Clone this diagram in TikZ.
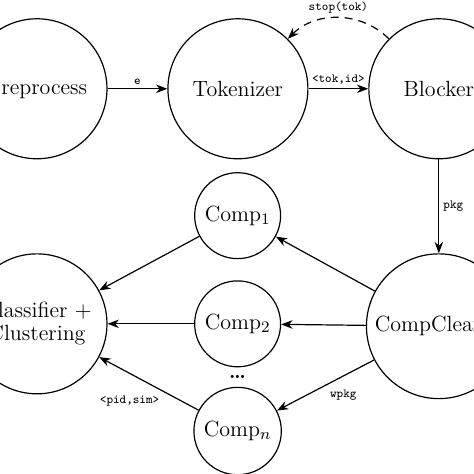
\documentclass[tikz,border=0pt]{standalone}
\usetikzlibrary{positioning,arrows.meta}

\tikzset{
  big/.style={draw, circle, semithick, minimum size=2.46cm, align=center,
    font=\fontsize{11}{11.5}\selectfont},
  comp/.style={draw, circle, semithick, minimum size=1.51cm,
    font=\fontsize{11}{11.5}\selectfont},
  flow/.style={semithick, -{Stealth[length=2mm]}},
  msg/.style={font=\fontsize{6.2}{7}\selectfont\ttfamily, auto, inner sep=2pt},
}

\begin{document}
\begin{tikzpicture}[node distance=1.05cm]
  \path[use as bounding box, clip] (-0.65,1.56) rectangle (7.68,-6.77);

  % Nodes
  \node[big] (P) {Preprocess};
  \node[big, right=of P] (T) {Tokenizer};
  \node[big, right=of T] (B) {Blocker};
  \node[big, below=1.65cm of B] (CC) {CompCleaner};
  \node[big, below=1.65cm of P] (C) {Classifier +\\Clustering};
  \node[comp, right=1.52cm of C] (Comp2) {Comp$_2$};
  \node[comp, above=0.37cm of Comp2] (Comp1) {Comp$_1$};
  \node[comp, below=0.34cm of Comp2] (Compn) {Comp$_n$};
  \path (Comp2) -- node (dots) {\textbf{\ldots}} (Compn);

  % Edges
  \draw[flow] (P) -- node[msg] {e} (T);
  \draw[flow] (T) -- node[msg] {<tok,id>} (B);
  \draw[flow, dash pattern=on 4pt off 3pt] (B.135) to[bend right=45] node[msg, swap] {stop(tok)} (T.45);
  \draw[flow] (B) -- node[msg] {pkg} (CC);
  \draw[flow] (CC) -- (Comp1);
  \draw[flow] (CC) -- (Comp2);
  \draw[flow] (CC) -- node[msg] {wpkg} (Compn);
  \draw[flow] (Comp1) -- (C);
  \draw[flow] (Comp2) -- (C);
  \draw[flow] (Compn) -- node[msg, pos=0.35] {<pid,sim>} (C);
\end{tikzpicture}
\end{document}
